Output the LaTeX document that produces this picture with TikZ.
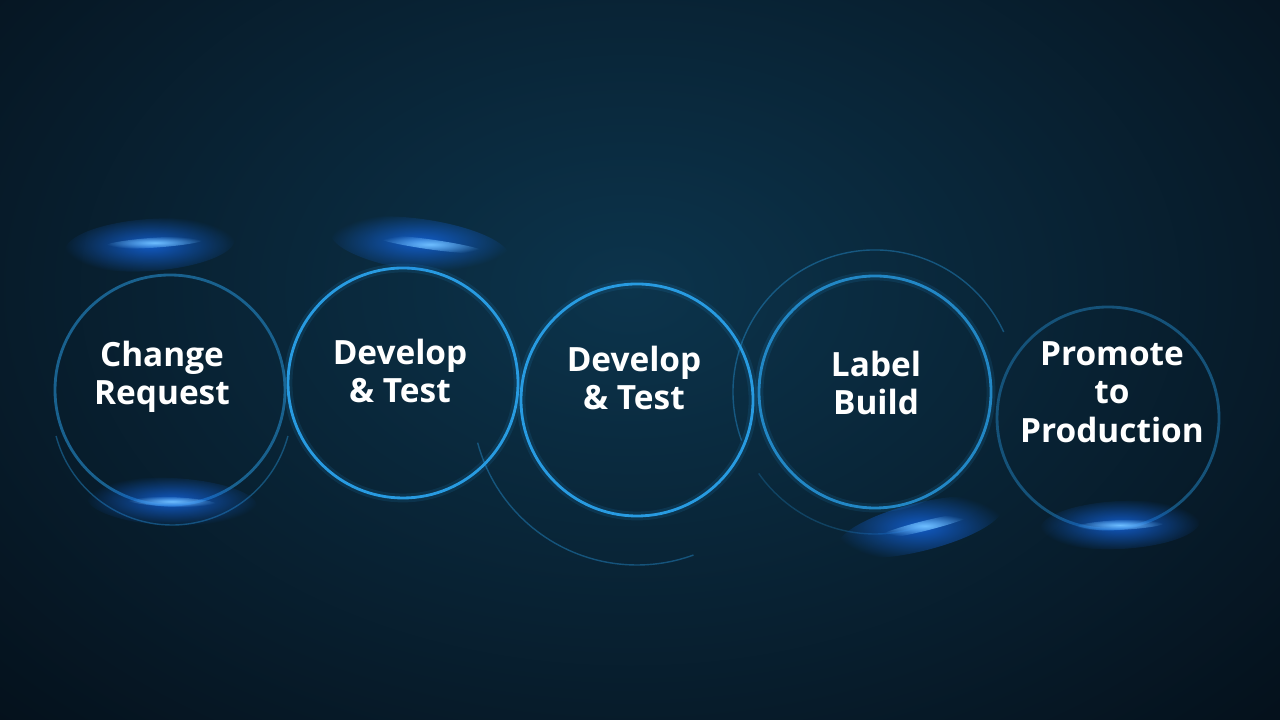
\documentclass[tikz,border=0pt]{standalone}
\usepackage{fontspec}
\setmainfont{Open Sans}
\usetikzlibrary{positioning,fadings}

\definecolor{bgdark}{RGB}{3,9,17}
\definecolor{bglight}{RGB}{12,52,76}
\definecolor{ringblue}{RGB}{40,155,225}
\definecolor{glowblue}{RGB}{20,105,235}
\definecolor{glowlight}{RGB}{110,190,255}

\tikzfading[name=glowfade, inner color=transparent!0, outer color=transparent!100]

\tikzset{
  stepring/.style={circle, draw=ringblue, line width=0.8pt, inner sep=0pt, minimum size=#1},
  steptext/.style={text=white, align=center, font=\fontsize{9.5}{11}\selectfont\bfseries},
  faintring/.style={draw=ringblue, line width=0.4pt, opacity=0.4},
  haze/.style={draw=ringblue, line width=2.5pt, opacity=0.12},
  glow/.style={fill=glowblue, path fading=glowfade, opacity=0.8},
  glowcore/.style={fill=glowlight, path fading=glowfade},
}

\begin{document}
\begin{tikzpicture}

    \useasboundingbox (0,0) rectangle (12.8,7.2);
    \clip (0,0) rectangle (12.8,7.2);

    % background
    \fill [bgdark] (0,0) rectangle (12.8,7.2);
    \shade [inner color=bglight, outer color=bgdark] (6.3,4.3) ellipse (11 and 7.5);

    % the five steps
    \node [stepring=2.30cm, draw=ringblue!60!bgdark] (c1) at (1.70,3.30) {};
    \node [stepring=2.30cm] (c2) at (4.03,3.37) {};
    \node [stepring=2.32cm] (c3) at (6.37,3.20) {};
    \node [stepring=2.32cm, draw=ringblue!85!bgdark] (c4) at (8.75,3.28) {};
    \node [stepring=2.22cm, draw=ringblue!50!bgdark] (c5) at (11.08,3.02) {};

    \draw [haze] (c2.center) circle (1.15);
    \draw [haze] (c3.center) circle (1.16);
    \draw [haze] (c4.center) circle (1.16);

    % faint outer rings
    \draw [faintring] ([shift={(195:1.20)}]c1.center) ++(0.02,-0.15) arc [start angle=195, end angle=345, radius=1.20];
    \draw [faintring] ([shift={(195:1.65)}]c3.center) arc [start angle=195, end angle=290, radius=1.65];
    \draw [faintring] ([shift={(25:1.42)}]c4.center) arc [start angle=25, end angle=200, radius=1.42];
    \draw [faintring, opacity=0.25] ([shift={(215:1.42)}]c4.center) arc [start angle=215, end angle=290, radius=1.42];

    % glows
    \begin{scope}[shift={(1.50,4.75)}, rotate=4]
        \fill [glow] (0,0) ellipse (0.85 and 0.26);
        \fill [glowcore] (0.05,0.02) ellipse (0.5 and 0.05);
    \end{scope}
    \begin{scope}[shift={(4.20,4.75)}, rotate=-8]
        \fill [glow] (0,0) ellipse (0.9 and 0.26);
        \fill [glowcore] (0.1,0.02) ellipse (0.55 and 0.05);
    \end{scope}
    \begin{scope}[shift={(1.72,2.18)}, rotate=-3]
        \fill [glow] (0,0) ellipse (0.85 and 0.24);
        \fill [glowcore] (0,0) ellipse (0.45 and 0.05);
    \end{scope}
    \begin{scope}[shift={(9.20,1.93)}, rotate=14]
        \fill [glow] (0,0) ellipse (0.85 and 0.24);
        \fill [glowcore] (0.05,0) ellipse (0.5 and 0.05);
    \end{scope}
    \begin{scope}[shift={(11.20,1.95)}, rotate=3]
        \fill [glow] (0,0) ellipse (0.8 and 0.24);
        \fill [glowcore] (0,0) ellipse (0.45 and 0.05);
    \end{scope}

    % labels
    \node [steptext] (t1) at ([xshift=-0.08cm, yshift=0.13cm]c1.center) {Change\\Request};
    \node [steptext] (t2) at ([xshift=-0.03cm, yshift=0.12cm]c2.center) {Develop\\\& Test};
    \node [steptext] (t3) at ([xshift=-0.03cm, yshift=0.22cm]c3.center) {Develop\\\& Test};
    \node [steptext] (t4) at ([xshift=0.01cm, yshift=0.09cm]c4.center) {Label\\Build};
    \node [steptext] (t5) at ([xshift=0.04cm, yshift=0.26cm]c5.center) {Promote\\to\\Production};

\end{tikzpicture}
\end{document}
